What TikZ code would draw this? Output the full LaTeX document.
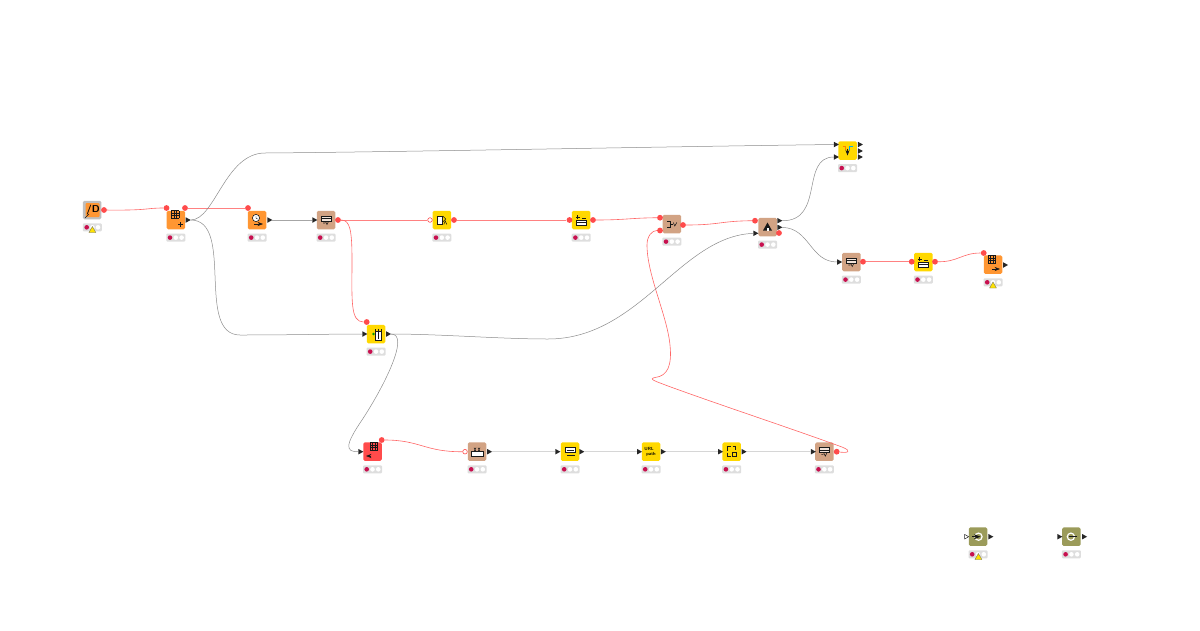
\documentclass[tikz,border=0pt]{standalone}
\usepackage{xcolor}
\usetikzlibrary{shapes.geometric, arrows.meta, positioning}

\definecolor{manip}{HTML}{FF9632}
\definecolor{wrangle}{HTML}{FFD800}
\definecolor{other}{HTML}{D2A384}
\definecolor{source}{HTML}{FF4B4B}
\definecolor{service}{HTML}{9B9B5A}
\definecolor{flowred}{HTML}{FF4B4B}
\definecolor{statusred}{HTML}{C8104F}

\tikzset{
    knimebox/.style={rectangle, rounded corners=1.5pt, minimum size=18.5pt, inner sep=0pt},
    statusbar/.style={rectangle, rounded corners=1pt, fill=black!13, minimum width=19pt, minimum height=8pt, inner sep=0pt},
    statusdot/.style={circle, fill=white, minimum size=4.6pt, inner sep=0pt},
    flowport/.style={circle, fill=flowred, minimum size=5.8pt, inner sep=0pt},
    hollowport/.style={circle, draw=flowred, fill=white, line width=0.6pt, minimum size=4.6pt, inner sep=0pt},
    dataport/.style={isosceles triangle, isosceles triangle stretches, fill=black!85, minimum width=5.5pt, minimum height=5pt, inner sep=0pt, outer sep=0pt},
    hollowdata/.style={dataport, draw=black!85, fill=white, line width=0.5pt, minimum width=4.5pt, minimum height=4pt},
    warnsign/.style={regular polygon, regular polygon sides=3, fill=yellow!85!orange, draw=black!60, line width=0.3pt, minimum size=8pt, inner sep=0pt},
    dataline/.style={draw=black!45, line width=0.5pt},
    lightline/.style={draw=black!16, line width=1.2pt},
    flowline/.style={draw=flowred!85, line width=0.6pt},
    iconline/.style={draw=black!90, line width=0.55pt},
    iconfill/.style={fill=black!90}
}

% node body with its traffic light underneath
\newcommand{\knimenode}[4]{%
    \node[knimebox, fill=#4] (#1) at (#2,#3) {};
    \node[statusbar] (#1-status) at (#2,#3+17.6) {};
    \node[statusdot, fill=statusred] (#1-red) at (#2-5.8,#3+17.6) {};
    \node[statusdot] (#1-amber) at (#2,#3+17.6) {};
    \node[statusdot] (#1-green) at (#2+5.8,#3+17.6) {};
}
% small output-view symbol
\newcommand{\viewicon}[1]{%
    \begin{scope}[shift={(#1)}]
        \draw[iconline, fill=white!70!other] (-5,-4) rectangle (5,1);
        \draw[iconline, line width=0.8pt] (-5,-1.5) -- (5,-1.5);
        \draw[iconline] (-0.5,1.5) -- (1,4.5) -- (2.5,1.5) (-3,3) -- (-1,3);
    \end{scope}
}
% small table symbol
\newcommand{\tableicon}[3]{%
    \begin{scope}[shift={(#1)}, xshift=#2pt, yshift=#3pt]
        \foreach \i in {0,2.5,5,7.5} {
            \draw[iconline, line width=0.45pt] (\i,0) -- (\i,-7.5);
            \draw[iconline, line width=0.45pt] (0,-\i) -- (7.5,-\i);
        }
    \end{scope}
}

\begin{document}
\begin{tikzpicture}[x=1pt, y=-1pt]
    \useasboundingbox (0,0) rectangle (1200,630);

    % nodes
    \node[knimebox, fill=black!25] (reader) at (92.2,210) {};
    \node[rectangle, rounded corners=1pt, fill=manip, minimum size=14pt, inner sep=0pt] (readerinner) at (92.5,210) {};
    \node[inner sep=0pt, font=\sffamily\bfseries\fontsize{10}{10}\selectfont] (readertext) at (93,209.5) {/D};
    \node[statusbar] (reader-status) at (92.3,227.3) {};
    \node[statusdot, fill=statusred] (reader-red) at (86.7,227.3) {};
    \node[statusdot] (reader-amber) at (92.4,227.3) {};
    \node[statusdot] (reader-green) at (98,227.3) {};
    \foreach \n/\x/\y/\c in {
        split/175.8/220/manip, timer/257/220/manip, viewa/326/220/other,
        rule/441.8/220/wrangle, convert/581.2/220/wrangle, merge/671.8/224/other,
        tri/767.5/227/other, joiner/847.5/150.5/wrangle, viewb/851.3/262/other,
        convertb/923.3/262/wrangle, output/993/264.7/manip, fork/376/334/wrangle,
        table/372.5/451.7/source, extract/477/451.7/other, strip/570/451.7/wrangle,
        url/651/451.7/wrangle, loop/731.7/451.7/wrangle, viewc/824.3/451.7/other,
        servicein/978/536.7/service, serviceout/1071.4/536.7/service}
        \knimenode{\n}{\x}{\y}{\c};

    % warning signs
    \node[warnsign] (readerwarn) at (92.4,230.5) {};
    \node[warnsign] (outputwarn) at (993,286) {};
    \node[warnsign] (serviceinwarn) at (978.4,557.5) {};

    % flow variable ports
    \foreach \n/\x/\y in {
        readerout/104/210, splitin/166.5/208, splitvar/185/208, timerin/248/208,
        viewaout/338/220, ruleout/454/220, convertin/569.5/220, convertout/593/220,
        mergein/660/217.7, mergeinb/660/230.5, mergeout/683/225, triin/755/220.7,
        trivar/779/233, forkin/366.7/322, tablevar/381.7/440, viewcout/836.7/451.7,
        viewbout/863/261.7, convbin/911.7/261.7, convbout/935/261.7, outputin/983.7/253}
        \node[flowport] (\n) at (\x,\y) {};
    \node[hollowport] (rulein) at (430,220) {};
    \node[hollowport] (extractin) at (465,451.7) {};

    % data ports
    \foreach \n/\x/\y in {
        splitout/187.3/220, timerout/269/220, viewain/314/220,
        triinb/755/233.3, triouta/779/220.7, trioutb/779/227.3,
        joina/835.5/144.5, joinb/835.5/157, joinc/859.5/144.5, joind/859.5/151, joine/859.5/157,
        viewbin/838.8/262, outputout/1004.7/265,
        forkinb/364/334, forkout/387.7/334, tablein/360/451.7, extractout/488.7/451.7,
        stripin/557/451.7, stripout/581/451.7, urlin/638.7/451.7, urlout/662.5/451.7,
        loopin/719.7/451.7, loopout/743.3/451.7, viewcin/812.5/451.7,
        serviceinout/990/536.7, serviceoutin/1059/536.7, serviceoutout/1083.7/536.7}
        \node[dataport] (\n) at (\x,\y) {};
    \node[hollowdata] (serviceinin) at (966,536.7) {};

    % straight connectors
    \draw[draw=black!35, line width=0.9pt] (timerout) -- (viewain);
    \foreach \a/\b in {extractout/stripin, stripout/urlin, urlout/loopin, loopout/viewcin}
        \draw[lightline] (\a) -- (\b);
    \foreach \a/\b in {splitvar/timerin, viewaout/rulein, ruleout/convertin, viewbout/convbin}
        \draw[flowline, line width=0.8pt, draw=flowred!70] (\a) -- (\b);

    % curved connectors
    \draw[flowline] (readerout) .. controls (150,210.5) and (145,208) .. (splitin);
    \draw[flowline] (convertout) .. controls (625,220) and (630,218) .. (mergein);
    \draw[flowline] (mergeout) .. controls (720,225) and (720,221) .. (triin);
    \draw[flowline] (convbout) .. controls (958,262) and (962,253) .. (outputin);
    \draw[flowline] (tablevar) .. controls (420,440) and (425,452) .. (extractin);
    \draw[flowline] (viewaout) .. controls (350,220) and (352,230) .. (352,260)
        .. controls (352,300) and (350,322) .. (forkin);
    \draw[flowline] (viewcout) .. controls (846,453) and (854,452) .. (842,447)
        .. controls (790,428) and (720,405) .. (668,386)
        .. controls (655,381) and (648,379) .. (655,377.5)
        .. controls (668,376) and (672,365) .. (670,345)
        .. controls (667,315) and (647,275) .. (647,245)
        .. controls (647,236) and (652,230.5) .. (mergeinb);
    \draw[dataline] (splitout) .. controls (215,220) and (225,153) .. (265,153)
        .. controls (400,152) and (700,146) .. (joina);
    \draw[dataline] (splitout) .. controls (235,220) and (195,335) .. (240,335)
        .. controls (290,335) and (330,334) .. (forkinb);
    \draw[dataline] (forkout) .. controls (440,334) and (500,339) .. (548,339)
        .. controls (640,339) and (680,236) .. (triinb);
    \draw[dataline] (forkout) .. controls (410,334) and (385,385) .. (362,420)
        .. controls (345,445) and (345,452) .. (tablein);
    \draw[dataline] (triouta) .. controls (825,221) and (800,157) .. (joinb);
    \draw[dataline] (trioutb) .. controls (810,228) and (810,262) .. (viewbin);

    % icons
    \viewicon{viewa}
    \viewicon{viewb}
    \viewicon{viewc}
    \draw[iconline, line width=0.45pt] (89,214) -- (85,218);
    \tableicon{split}{-4.5}{2}
    \draw[iconline] (178,224.5) -- (183,224.5) (180.5,222) -- (180.5,227);
    \tableicon{output}{-5}{1.5}
    \draw[-Stealth, iconline] (992,269) -- (1000,269);
    \tableicon{table}{-2.5}{1.5}
    \draw[-Stealth, iconline] (371,456) -- (366,456);
    \begin{scope}[shift={(timer)}]
        \draw[iconline, fill=white] (-1,-2) circle (3.6);
        \draw[iconline, line width=0.45pt] (-1,-4) -- (-1,-2) -- (0.5,-1);
        \draw[-Stealth, iconline] (-3,4) -- (6,4);
    \end{scope}
    \begin{scope}[shift={(rule)}]
        \draw[iconline, line width=0.5pt, fill=white] (-5,-4) rectangle (0,4);
        \draw[iconline] (1,-4) -- (4,-1) -- (1,2) (2,4.5) -- (3.5,1) -- (5,4.5);
    \end{scope}
    \begin{scope}[shift={(convert)}]
        \draw[iconline, fill=white] (-5,0) rectangle (5,5);
        \draw[iconline] (-5,-3) -- (-1,-3) (1,-2) -- (5,-2) (-4,-5) -- (-4,-1);
        \draw[iconline, line width=0.45pt] (-5,2.5) -- (5,2.5);
    \end{scope}
    \begin{scope}[shift={(convertb)}]
        \draw[iconline, fill=white] (-5,0) rectangle (5,5);
        \draw[iconline] (-5,-3) -- (-1,-3) (1,-2) -- (5,-2) (-4,-5) -- (-4,-1);
        \draw[iconline, line width=0.45pt] (-5,2.5) -- (5,2.5);
    \end{scope}
    \begin{scope}[shift={(strip)}]
        \draw[iconline, fill=white] (-5,-4) rectangle (5,1);
        \draw[iconline] (-3.5,-1.5) -- (3.5,-1.5) (-3,4) -- (5,4);
    \end{scope}
    \begin{scope}[shift={(merge)}]
        \draw[iconline] (-5,-3) -- (-2,-3) -- (-2,3) -- (-5,3) (-2,0) -- (1,0);
        \draw[iconline] (1.5,-1.5) -- (3,2) -- (5,-1.5);
    \end{scope}
    \begin{scope}[shift={(tri)}]
        \fill[iconfill] (-4.5,3.5) -- (0,-4.5) -- (4.5,3.5) -- cycle;
        \fill[white] (-0.8,0.5) rectangle (1,3.5);
    \end{scope}
    \begin{scope}[shift={(joiner)}]
        \draw[orange, line width=0.6pt] (-5,-4) -- (-2,-4) -- (-2,-1);
        \draw[cyan, line width=0.6pt] (5,-4) -- (2,-4) -- (2,-1);
        \draw[-Stealth, iconline] (0,-2) -- (0,5);
    \end{scope}
    \begin{scope}[shift={(fork)}]
        \fill[green!60!black] (-2.5,0) circle (1.3);
        \draw[iconline, line width=0.45pt, fill=white] (-0.5,-3) rectangle (5,6);
        \draw[iconline] (-0.5,-5) -- (-0.5,5) (2.2,-5) -- (2.2,5) (5,-5) -- (5,5);
    \end{scope}
    \begin{scope}[shift={(extract)}]
        \draw[iconline, fill=white] (-6,0) rectangle (6,5);
        \draw[iconline] (-3,-4) -- (-1,0) (1,0) -- (3,-4) (-3,0) -- (-1,-4) (1,-4) -- (3,0);
    \end{scope}
    \begin{scope}[shift={(url)}]
        \node[inner sep=0pt, font=\sffamily\bfseries\fontsize{4.5}{5}\selectfont] (urltop) at (-2,-3) {URL};
        \node[inner sep=0pt, font=\sffamily\bfseries\fontsize{4.5}{5}\selectfont] (urlbottom) at (0,3) {path};
    \end{scope}
    \begin{scope}[shift={(loop)}]
        \draw[iconline] (-1,-5) -- (-4,-5) -- (-4,-1) (1,-5) -- (4,-5) -- (4,-2);
        \draw[iconline] (-4,1) -- (-4,5) -- (-1,5);
        \draw[iconline] (1,1) rectangle (5,5);
    \end{scope}
    \begin{scope}[shift={(servicein)}]
        \draw[draw=white, line width=1.2pt] (0.5,0) circle (3.6);
        \draw[-Stealth, draw=black!90, line width=0.8pt] (-6,0) -- (2.5,0);
    \end{scope}
    \begin{scope}[shift={(serviceout)}]
        \draw[draw=white, line width=1.2pt] (-0.5,0) circle (3.6);
        \draw[draw=black!90, line width=0.8pt] (-2,0) -- (6,0);
    \end{scope}
\end{tikzpicture}
\end{document}
